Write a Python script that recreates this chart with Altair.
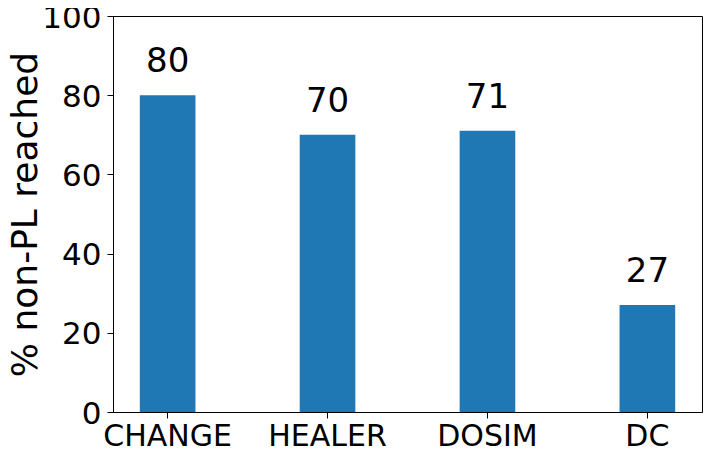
import altair as alt
import pandas as pd

categories = ["CHANGE", "HEALER", "DOSIM", "DC"]
values = [80, 70, 71, 27]
y_ticks = [0, 20, 40, 60, 80, 100]

df = pd.DataFrame({"method": categories, "pct": values})

FONT = "DejaVu Sans"

base = alt.Chart(df).encode(
    x=alt.X(
        "method:N",
        sort=categories,
        scale=alt.Scale(paddingInner=0.652, paddingOuter=0.1676),
        axis=alt.Axis(
            title=None,
            labelAngle=0,
            labelFontSize=30,
            labelFont=FONT,
            labelColor="black",
            labelPadding=3,
            tickSize=6,
            tickColor="black",
            domainColor="black",
        ),
    ),
    y=alt.Y(
        "pct:Q",
        scale=alt.Scale(domain=[0, 100], nice=False),
        axis=alt.Axis(
            title="% non-PL reached",
            values=y_ticks,
            grid=False,
            labelFontSize=31,
            labelFont=FONT,
            labelColor="black",
            labelPadding=6,
            labelOffset=2,
            tickSize=6,
            tickColor="black",
            domainColor="black",
            titleFont=FONT,
            titleFontSize=36,
            titleFontWeight="normal",
            titleColor="black",
            titleX=-77,
            titleY=198,
            titleAngle=270,
            titleAlign="center",
            titleBaseline="alphabetic",
        ),
    ),
)

bars = base.mark_bar(color="#1f77b4")

labels = base.mark_text(
    font=FONT, fontSize=34, color="black", baseline="alphabetic", align="center", dy=-23
).encode(text=alt.Text("pct:Q"))

chart = (
    (bars + labels)
    .properties(
        width=589,
        height=396,
        autosize=alt.AutoSizeParams(type="none"),
        padding={"left": 105, "top": 8, "right": 1, "bottom": 34},
    )
    .configure_view(stroke="black", strokeWidth=1)
)

chart.save("out.html", embed_options={"renderer": "svg", "actions": False})
